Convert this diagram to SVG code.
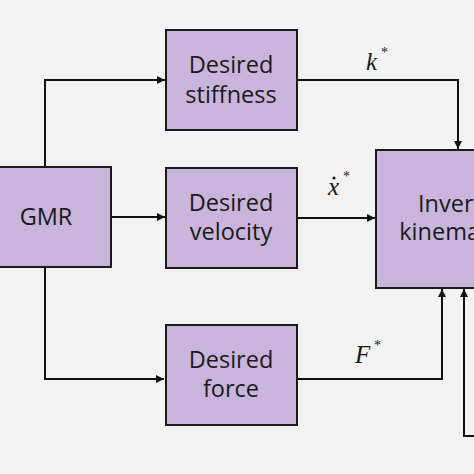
<svg xmlns="http://www.w3.org/2000/svg" width="474" height="474" viewBox="0 0 474 474">
<defs>
<marker id="arr" viewBox="0 0 10 10" refX="10" refY="5" markerWidth="9" markerHeight="8" markerUnits="userSpaceOnUse" orient="auto">
<path d="M0,0 L10,5 L0,10 z" fill="#111"/>
</marker>
<style>
.box{fill:#c9b5db;stroke:#1a1a1a;stroke-width:2}
.lbl{font-family:"Open Sans","Noto Sans",sans-serif;font-size:23.5px;fill:#1a1a1a;text-anchor:middle}
.ln{fill:none;stroke:#111;stroke-width:2}
.m{font-family:"Liberation Serif",serif;font-style:italic;font-size:25px;fill:#1a1a1a}
.s{font-family:"Liberation Serif",serif;font-size:14px;fill:#1a1a1a}
</style>
</defs>
<rect x="0" y="0" width="474" height="474" fill="#f2f2f2"/>
<g id="connectors">
<path class="ln" d="M45,167 V80 H165" marker-end="url(#arr)"/>
<path class="ln" d="M45,267 V379 H164" marker-end="url(#arr)"/>
<path class="ln" d="M111,217 H165" marker-end="url(#arr)"/>
<path class="ln" d="M297,218 H375" marker-end="url(#arr)"/>
<path class="ln" d="M297,80 H458 V149" marker-end="url(#arr)"/>
<path class="ln" d="M297,379 H442 V289" marker-end="url(#arr)"/>
<path class="ln" d="M480,436 H464 V289" marker-end="url(#arr)"/>
</g>
<g id="gmr">
<rect class="box" x="-10" y="167" width="121" height="100"/>
<text class="lbl" x="46" y="225">GMR</text>
</g>
<g id="stiffness">
<rect class="box" x="166" y="30" width="131" height="100"/>
<text class="lbl" x="231" y="73">Desired</text>
<text class="lbl" x="231" y="103">stiffness</text>
</g>
<g id="velocity">
<rect class="box" x="166" y="168" width="131" height="100"/>
<text class="lbl" x="231" y="211">Desired</text>
<text class="lbl" x="231" y="240">velocity</text>
</g>
<g id="force">
<rect class="box" x="166" y="325" width="131" height="100"/>
<text class="lbl" x="231" y="368">Desired</text>
<text class="lbl" x="231" y="397">force</text>
</g>
<g id="ik">
<rect class="box" x="376" y="150" width="160" height="138"/>
<text class="lbl" x="458" y="212">Inverse</text>
<text class="lbl" x="458" y="240">kinematics</text>
</g>
<g id="labels">
<text class="m" x="366" y="70">k</text><text class="s" x="381" y="57">*</text>
<text class="m" x="328" y="195">x</text><text class="s" x="343" y="181">*</text>
<circle cx="334" cy="178" r="1.6" fill="#1a1a1a"/>
<text class="m" x="355" y="363">F</text><text class="s" x="374" y="350">*</text>
</g>
</svg>
